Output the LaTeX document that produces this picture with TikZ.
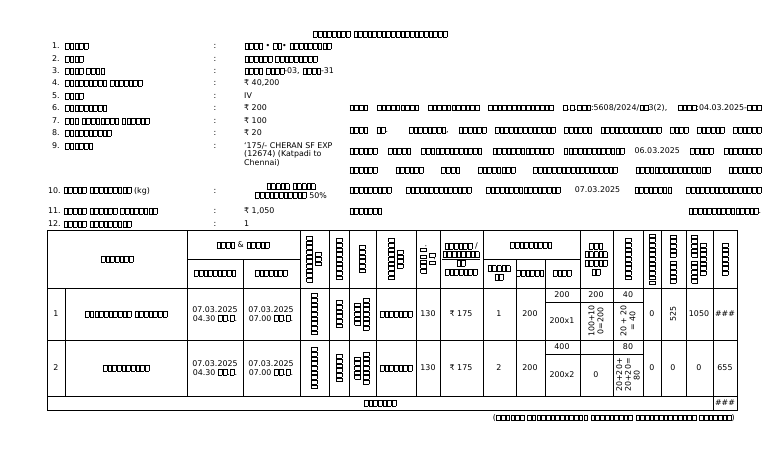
\documentclass[tikz,border=0pt]{standalone}
\usepackage{fontspec}
\setmainfont{DejaVu Sans}
\usepackage{tikz}
\setlength\fboxrule{0.35pt}
\setlength\fboxsep{0pt}
\newcommand\tofu{\kern0.35pt\fbox{\rule{0pt}{5.6pt}\kern3.3pt}\kern0.35pt}
\newcommand\tw[1]{\foreach\k in {1,...,#1}{\tofu}}
\tikzset{txt/.style={font=\fontsize{7.9}{8.8}\selectfont,inner sep=0pt},
  lft/.style={txt,anchor=west},
  cell/.style={txt,align=center},
  vcell/.style={txt,align=center,rotate=90}}
\begin{document}
\begin{tikzpicture}[x=1pt,y=-1pt]
\useasboundingbox (0,0) rectangle (768,466);
\node[txt,font=\fontsize{8.8}{10}\selectfont] (title) at (380,34) {\tw{8} \tw{20}};

% list on the left
\node[lft] (n1) at (52,46) {1.\ \ \tw{5}};
\node[lft] (n2) at (52,59) {2.\ \ \tw{4}};
\node[lft] (n3) at (52,71) {3.\ \ \tw{4} \tw{4}};
\node[lft] (n4) at (52,83) {4.\ \ \tw{9} \tw{7}};
\node[lft] (n5) at (52,96) {5.\ \ \tw{4}};
\node[lft] (n6) at (52,108) {6.\ \ \tw{9}};
\node[lft] (n7) at (52,121) {7.\ \ \tw{3} \tw{8} \tw{6}};
\node[lft] (n8) at (52,133) {8.\ \ \tw{10}};
\node[lft] (n9) at (52,146) {9.\ \ \tw{6}};
\node[lft] (n10) at (48,191) {10.\ \tw{5} \tw{9} (kg)};
\node[lft] (n11) at (48,211) {11.\ \tw{5} \tw{6} \tw{8}};
\node[lft] (n12) at (48,224) {12.\ \tw{5} \tw{9}};
\foreach \y in {46,59,71,83,96,108,121,133,146,191,211,224}
  \node[txt] at (215,\y) {:};
\node[lft] (v1) at (244,46) {\tw{4} \textbullet\ \tw{2}\textbullet\ \tw{9}};
\node[lft] (v2) at (244,59) {\tw{6} \tw{9}};
\node[lft] (v3) at (244,71) {\tw{4} \tw{4}-03, \tw{4}-31};
\node[lft] (v4) at (244,83) {₹ 40,200};
\node[lft] (v5) at (244,96) {IV};
\node[lft] (v6) at (244,108) {₹ 200};
\node[lft] (v7) at (244,121) {₹ 100};
\node[lft] (v8) at (244,133) {₹ 20};
\node[txt,anchor=north west,align=left] (v9) at (244,142) {`175/- CHERAN SF EXP\\(12674) (Katpadi to\\Chennai)};
\node[cell] (v10) at (291,191) {\tw{5} \tw{5}\\\tw{11} 50\%};
\node[lft] (v11) at (244,211) {₹ 1,050};
\node[lft] (v12) at (244,224) {1};

% paragraph
\foreach \y/\t in {108/{\tw{4} \tw{9} \tw{11} \tw{14} \tw{1}.\tw{1}.\tw{3}:5608/2024/\tw{2}3(2), \tw{4}:04.03.2025-\tw{3}},
  130/{\tw{4} \tw{2}. \tw{8}, \tw{6} \tw{13} \tw{6} \tw{13} \tw{4} \tw{6} \tw{6}},
  151/{\tw{6} \tw{5} \tw{13} \tw{13} \tw{13} 06.03.2025 \tw{5} \tw{8}},
  170/{\tw{6} \tw{6} \tw{4} \tw{8} \tw{18} \tw{16} \tw{7}},
  190/{\tw{9} \tw{14} \tw{16} 07.03.2025 \tw{8} \tw{16}},
  211/{\tw{7} \tw{15}.}}
  \node[lft] at (349,\y) {\makebox[412pt][s]{\t}};

% table grid
\draw[line width=0.6pt] (47,230) rectangle (737,410);
\draw (47,288) -- (737,288) (47,340) -- (737,340) (47,396) -- (737,396);
\draw (187,259) -- (300,259) (483,259) -- (580,259);
\draw (545,302) -- (643,302) (545,354) -- (643,354);
\draw (65,288) -- (65,396);
\foreach \x in {187,300,329,349,376,416,440,483,580,613,643,661,686,713}
  \draw (\x,230) -- (\x,396);
\draw (243,259) -- (243,396) (516,259) -- (516,396) (545,259) -- (545,396);
\draw (713,396) -- (713,410);

% header
\node[cell] (h1) at (117,259) {\tw{7}};
\node[cell] (h2) at (243,245) {\tw{4} \& \tw{5}};
\node[cell] (h3) at (215,273) {\tw{9}};
\node[cell] (h4) at (271,273) {\tw{7}};
\node[vcell] (h5) at (314,259) {\tw{10}\\\tw{3}};
\node[vcell] (h6) at (339,259) {\tw{9}};
\node[vcell] (h7) at (362,259) {\tw{6}};
\node[vcell] (h8) at (396,259) {\tw{9}\\\tw{4}};
\node[vcell] (h9) at (428,259) {\tw{4} \tw{1}.\\\tw{1}.\tw{1}};
\node[cell] (h10) at (461,259) {\underline{\tw{6} /}\\\underline{\tw{8}}\\\tw{2}\\\tw{7}};
\node[cell] (h11) at (531,245) {\tw{9}};
\node[cell] (h12) at (499,273) {\tw{5}\\\tw{2}};
\node[cell] (h13) at (530,273) {\tw{6}};
\node[cell] (h14) at (562,273) {\tw{4}};
\node[cell] (h15) at (596,259) {\tw{3}\\\tw{5}\\\tw{5}\\\tw{2}};
\node[vcell] (h16) at (628,259) {\tw{9}};
\node[vcell] (h17) at (652,259) {\tw{11}};
\node[vcell] (h18) at (673,259) {\tw{5} \tw{5}};
\node[vcell] (h19) at (699,259) {\tw{5} \tw{5}\\\tw{7}};
\node[vcell] (h20) at (725,259) {\tw{7}};

% rows
\foreach \y/\n/\name/\sub in {314/1/{\tw{10} \tw{7}}/1, 368/2/{\tw{10}}/2} {
  \node[cell] at (56,\y) {\n};
  \node[cell] at (126,\y) {\name};
  \node[cell] at (215,\y) {07.03.2025\\04.30 \tw{2}.\tw{1}.};
  \node[cell] at (271,\y) {07.03.2025\\07.00 \tw{2}.\tw{1}.};
  \node[vcell] at (314,\y) {\tw{9}};
  \node[vcell] at (339,\y) {\tw{6}};
  \node[vcell] at (362,\y) {\tw{5}\\\tw{7}};
  \node[cell] at (396,\y) {\tw{7}};
  \node[cell] at (428,\y) {130};
  \node[cell] at (461,\y) {₹ 175};
  \node[cell] at (499,\y) {\sub};
  \node[cell] at (530,\y) {200};
}
\node[cell] (a1) at (562,295) {200};
\node[cell] (a2) at (562,321) {200x1};
\node[cell] (a3) at (596,295) {200};
\node[vcell] (a4) at (596,321) {100+10\\0=200};
\node[cell] (a5) at (628,295) {40};
\node[vcell] (a6) at (628,321) {20 + 20\\= 40};
\node[cell] (a7) at (652,314) {0};
\node[vcell] (a8) at (673,314) {525};
\node[cell] (a9) at (699,314) {1050};
\node[cell] (a10) at (725,314) {\#\#\#};
\node[cell] (b1) at (562,347) {400};
\node[cell] (b2) at (562,375) {200x2};
\node[cell] (b3) at (596,375) {0};
\node[cell] (b5) at (628,347) {80};
\node[vcell] (b6) at (628,375) {20+20+\\20+20=\\80};
\node[cell] (b7) at (652,368) {0};
\node[cell] (b8) at (673,368) {0};
\node[cell] (b9) at (699,368) {0};
\node[cell] (b10) at (725,368) {655};
\node[cell] (tot) at (380,403) {\tw{7}};
\node[cell] (tot2) at (725,403) {\#\#\#};
\node[txt,anchor=east] (foot) at (735,418) {(\tw{6} \tw{13} \tw{9} \tw{13} \tw{7})};
\end{tikzpicture}
\end{document}
